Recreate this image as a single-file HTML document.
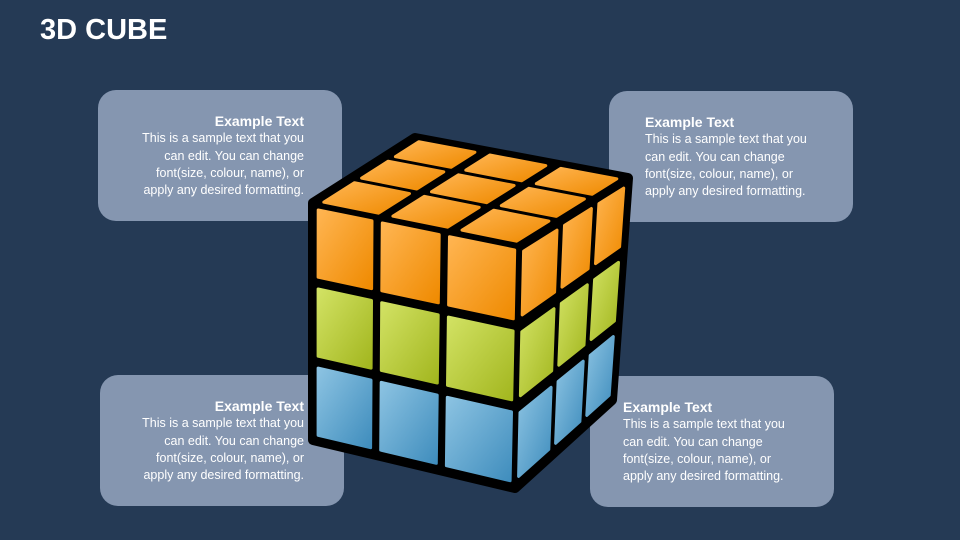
<!DOCTYPE html>
<html><head><meta charset="utf-8"><style>
body{margin:0;width:960px;height:540px;background:#253a55;position:relative;overflow:hidden;font-family:"Liberation Sans","DejaVu Sans",sans-serif;}
h1{position:absolute;left:40px;top:14px;margin:0;color:#fff;font-size:29px;font-weight:bold;}
.box{position:absolute;width:244px;height:131px;background:#8596b0;border-radius:18px;color:#fff;font-size:12.5px;line-height:17.3px;box-sizing:border-box;padding-top:23px;}
.box b{display:block;font-size:14px;}
.r{text-align:right;padding-right:38px}
.l{text-align:left;padding-left:36px}
svg{position:absolute;left:0;top:0}
</style></head><body>
<h1>3D CUBE</h1>
<div class="box r" style="left:98px;top:90px"><b>Example Text</b>This is a sample text that you<br>can edit. You can change<br>font(size, colour, name), or<br>apply any desired formatting.</div>
<div class="box l" style="left:609px;top:91px"><b>Example Text</b>This is a sample text that you<br>can edit. You can change<br>font(size, colour, name), or<br>apply any desired formatting.</div>
<div class="box r" style="left:100px;top:375px;padding-right:40px"><b>Example Text</b>This is a sample text that you<br>can edit. You can change<br>font(size, colour, name), or<br>apply any desired formatting.</div>
<div class="box l" style="left:590px;top:376px;padding-left:33px"><b>Example Text</b>This is a sample text that you<br>can edit. You can change<br>font(size, colour, name), or<br>apply any desired formatting.</div>
<svg id="s" width="960" height="540" xmlns="http://www.w3.org/2000/svg">
<defs>
<linearGradient id="o" x1="0" y1="0" x2="1" y2="1"><stop offset="0" stop-color="#ffb552"/><stop offset="1" stop-color="#ef8a00"/></linearGradient>
<linearGradient id="g" x1="0" y1="0" x2="1" y2="1"><stop offset="0" stop-color="#d2e264"/><stop offset="1" stop-color="#a2b61e"/></linearGradient>
<linearGradient id="b" x1="0" y1="0" x2="1" y2="1"><stop offset="0" stop-color="#8cc3e2"/><stop offset="1" stop-color="#3f8dbd"/></linearGradient>
</defs>
<polygon points="313,203 415,138 628,178 612,400 515,488 313,440" fill="#000" stroke="#000" stroke-width="10" stroke-linejoin="round"/>
<g id="st"></g>
</svg>
<script>
var g=document.getElementById('st'),out='';
function face(A,B,C,D,cols,gap,us,vs){
 function P(u,v){var x=(1-u)*(1-v)*A[0]+u*(1-v)*B[0]+u*v*C[0]+(1-u)*v*D[0];var y=(1-u)*(1-v)*A[1]+u*(1-v)*B[1]+u*v*C[1]+(1-u)*v*D[1];return x.toFixed(1)+','+y.toFixed(1);}
 for(var j=0;j<3;j++)for(var i=0;i<3;i++){var u0=us[i]+gap,u1=us[i+1]-gap,v0=vs[j]+gap,v1=vs[j+1]-gap;
  out+='<polygon points="'+P(u0,v0)+' '+P(u1,v0)+' '+P(u1,v1)+' '+P(u0,v1)+'" fill="url(#'+cols[j]+')" stroke="url(#'+cols[j]+')" stroke-width="3" stroke-linejoin="round"/>';}
}
var E=[0,1/3,2/3,1];
face([313,203],[520,245],[515,488],[313,440],['o','g','b'],0.025,[0,0.31,0.635,1],E);
face([520,245],[628,178],[612,400],[515,488],['o','g','b'],0.035,[0,0.38,0.7,1],E);
face([415,138],[628,178],[520,245],[313,203],['o','o','o'],0.035,E,[0,0.3,0.63,1]);
g.innerHTML=out;
</script>
</body></html>
